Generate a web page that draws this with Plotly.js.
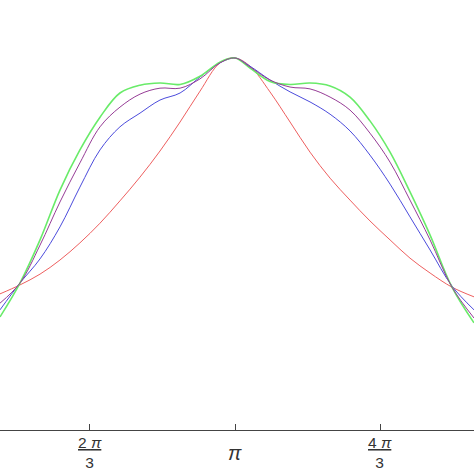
<!DOCTYPE html>
<html>
<head>
<meta charset="utf-8">
<script src="https://cdn.plot.ly/plotly-3.0.1.min.js"></script>
<style>html,body{margin:0;padding:0;background:#fff;}#chart{width:474px;height:474px;}</style>
</head>
<body>
<div id="chart"></div>
<script>
// x positions (radians)
const xValues = [1.445, 1.589, 1.734, 1.878, 2.022, 2.167, 2.311, 2.456, 2.600, 2.745, 2.889, 3.033, 3.142,
                 3.250, 3.394, 3.539, 3.683, 3.828, 3.972, 4.116, 4.261, 4.405, 4.550, 4.708, 4.867];

const redValues = [0.366, 0.390, 0.419, 0.457, 0.503, 0.556, 0.616, 0.680, 0.750, 0.828, 0.911, 0.987, 1.000,
                   0.978, 0.909, 0.828, 0.747, 0.677, 0.618, 0.562, 0.511, 0.462, 0.422, 0.384, 0.358];

const blueValues = [0.323, 0.395, 0.460, 0.546, 0.653, 0.753, 0.815, 0.852, 0.887, 0.906, 0.949, 0.987, 1.000,
                    0.978, 0.941, 0.909, 0.882, 0.849, 0.804, 0.739, 0.661, 0.573, 0.484, 0.387, 0.323];

const purpleValues = [0.341, 0.395, 0.497, 0.613, 0.718, 0.815, 0.868, 0.903, 0.919, 0.919, 0.944, 0.987, 1.000,
                      0.976, 0.941, 0.922, 0.917, 0.895, 0.860, 0.798, 0.720, 0.618, 0.511, 0.384, 0.301];

const greenValues = [0.304, 0.395, 0.511, 0.645, 0.753, 0.841, 0.906, 0.927, 0.933, 0.929, 0.951, 0.989, 1.000,
                     0.973, 0.937, 0.929, 0.933, 0.925, 0.895, 0.831, 0.747, 0.640, 0.524, 0.384, 0.288];

const tickValues = [2 * Math.PI / 3, Math.PI, 4 * Math.PI / 3];
const tickLabels = ["<u>2 <i>π</i></u><br>3", "<i>π</i>", "<u>4 <i>π</i></u><br>3"];

const mk = (y, color, width) => ({
  x: xValues, y: y, type: 'scatter', mode: 'lines',
  line: {color: color, width: width, shape: 'spline', smoothing: 1.0},
  hoverinfo: 'skip'
});

const traces = [
  mk(redValues, 'rgb(238,95,95)', 1),
  mk(blueValues, 'rgb(75,75,220)', 1),
  mk(greenValues, 'rgb(105,235,105)', 1.6),
  mk(purpleValues, 'rgb(150,60,150)', 1)
];

const annotations = tickValues.map((v, i) => ({
  x: v, xref: 'x', y: 0, yref: 'paper', yanchor: 'top', xanchor: 'center',
  yshift: i === 1 ? -10 : -2,
  text: tickLabels[i], showarrow: false,
  font: {family: 'Liberation Sans, Arial, sans-serif', size: i === 1 ? 20 : 15.5, color: '#333'}
}));

const layout = {
  width: 474, height: 474,
  margin: {l: 0, r: 0, t: 0, b: 44},
  paper_bgcolor: '#fff', plot_bgcolor: '#fff',
  showlegend: false,
  xaxis: {
    range: [1.445, 4.867], showgrid: false, zeroline: false,
    showline: true, linecolor: '#444', linewidth: 1.4,
    tickmode: 'array', tickvals: tickValues, showticklabels: false,
    ticks: 'inside', ticklen: 6, tickcolor: '#444', tickwidth: 1
  },
  yaxis: {
    range: [0, 1.156], showgrid: false, zeroline: false, showline: false,
    showticklabels: false, ticks: ''
  },
  annotations: annotations
};

Plotly.newPlot('chart', traces, layout, {staticPlot: true});
</script>
</body>
</html>
